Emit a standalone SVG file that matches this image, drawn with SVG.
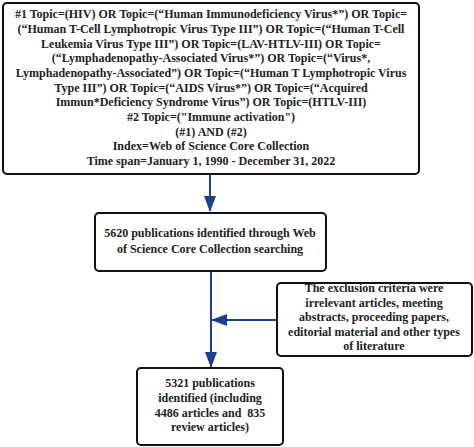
<svg xmlns="http://www.w3.org/2000/svg" width="474" height="447" viewBox="0 0 474 447">
<defs>
<style>
.box{fill:#fff;stroke:#111;stroke-width:2}
.t{font-weight:700;font-size:12px;fill:#222;text-anchor:middle}
.c{stroke:#1c3f8f;stroke-width:2;fill:none}
</style>
<marker id="ah2" markerWidth="16" markerHeight="12" refX="15" refY="6" orient="auto" markerUnits="userSpaceOnUse">
<path d="M0,0 L16,6 L0,12 Z" fill="#1c3f8f"/>
</marker>
</defs>
<g id="connectors">
<line class="c" x1="210" y1="174" x2="210" y2="211" marker-end="url(#ah2)"/>
<line class="c" x1="211" y1="271" x2="211" y2="367" marker-end="url(#ah2)"/>
<line class="c" x1="277" y1="320" x2="212" y2="320" marker-end="url(#ah2)"/>
</g>
<g font-family="Liberation Serif, serif">
<g id="search">
<rect class="box" x="3" y="3" width="416" height="171" rx="4"/>
<text class="t" x="211" y="18">#1 Topic=(HIV) OR Topic=(“Human Immunodeficiency Virus*”) OR Topic=</text>
<text class="t" x="211" y="33">(“Human T-Cell Lymphotropic Virus Type III”) OR Topic=(“Human T-Cell</text>
<text class="t" x="211" y="47.5">Leukemia Virus Type III”) OR Topic=(LAV-HTLV-III) OR Topic=</text>
<text class="t" x="211" y="62">(“Lymphadenopathy-Associated Virus*”) OR Topic=(“Virus*,</text>
<text class="t" x="211" y="77">Lymphadenopathy-Associated”) OR Topic=(“Human T Lymphotropic Virus</text>
<text class="t" x="211" y="91.5">Type III”) OR Topic=(“AIDS Virus*”) OR Topic=(“Acquired</text>
<text class="t" x="211" y="106">Immun*Deficiency Syndrome Virus”) OR Topic=(HTLV-III)</text>
<text class="t" x="211" y="121">#2 Topic=("Immune activation")</text>
<text class="t" x="211" y="135.5">(#1) AND (#2)</text>
<text class="t" x="211" y="150">Index=Web of Science Core Collection</text>
<text class="t" x="211" y="165">Time span=January 1, 1990 - December 31, 2022</text>
</g>
<g id="identified">
<rect class="box" x="95" y="213" width="231" height="58" rx="4"/>
<text class="t" x="210" y="237">5620 publications identified through Web</text>
<text class="t" x="210" y="253">of Science Core Collection searching</text>
</g>
<g id="exclusion">
<rect class="box" x="277" y="283" width="195" height="73" rx="4"/>
<text class="t" x="374" y="292">The exclusion criteria were</text>
<text class="t" x="374" y="306.5">irrelevant articles, meeting</text>
<text class="t" x="374" y="321">abstracts, proceeding papers,</text>
<text class="t" x="374" y="335.5">editorial material and other types</text>
<text class="t" x="374" y="350">of literature</text>
</g>
<g id="final">
<rect class="box" x="137" y="368" width="146" height="77" rx="4"/>
<text class="t" x="210" y="387">5321 publications</text>
<text class="t" x="210" y="402">identified (including</text>
<text class="t" x="210" y="416.5" xml:space="preserve">4486 articles and  835</text>
<text class="t" x="210" y="431">review articles)</text>
</g>
</g>
</svg>
